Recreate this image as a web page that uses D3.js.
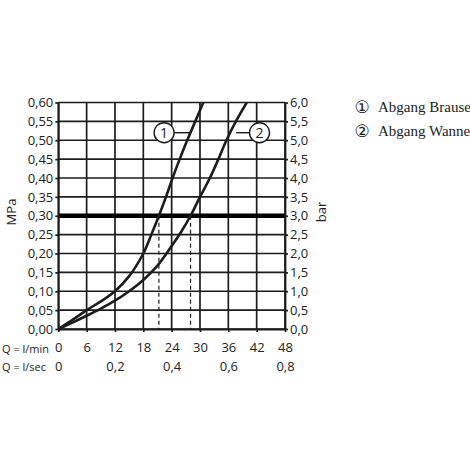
<!DOCTYPE html>
<html><head><meta charset="utf-8">
<script src="https://cdn.jsdelivr.net/npm/d3@7"></script>
<style>body{margin:0;background:#fff}svg{display:block}</style>
</head><body>
<script>
// ---- data ----
const qTicks = [0, 6, 12, 18, 24, 30, 36, 42, 48];           // l/min
const qSecTicks = [0, 0.2, 0.4, 0.6, 0.8];                    // l/sec
const mpaTicks = [0, 0.05, 0.10, 0.15, 0.20, 0.25, 0.30, 0.35, 0.40, 0.45, 0.50, 0.55, 0.60];
const barTicks = [0, 0.5, 1.0, 1.5, 2.0, 2.5, 3.0, 3.5, 4.0, 4.5, 5.0, 5.5, 6.0];
const seriesNames = ["Abgang Brause", "Abgang Wanne"];
const seriesMarks = ["\u2460", "\u2461"];
const brauseQ = [0, 3, 6, 9, 12, 15, 18.0, 19.7, 21.3, 22.8, 24.2, 25.7, 27.3, 29.0, 30.7];
const brauseP = [0, 0.024, 0.05, 0.073, 0.10, 0.14, 0.20, 0.25, 0.30, 0.35, 0.40, 0.45, 0.50, 0.55, 0.60];
const wanneQ = [0, 3, 6, 9, 12, 15, 18, 21, 24, 26, 28.0, 30.0, 32.1, 33.9, 35.6, 37.6, 39.9];
const wanneP = [0, 0.017, 0.035, 0.054, 0.075, 0.10, 0.13, 0.168, 0.22, 0.257, 0.30, 0.35, 0.40, 0.45, 0.50, 0.55, 0.60];
const refPressure = 0.30;          // MPa, thick reference line
const dropQ = [21.3, 28.0];        // flow at reference pressure
const labelQ = [22.4, 42.6];       // circled label positions
const labelP = 0.52;

// ---- layout ----
const W = 470, H = 470;
const x = d3.scaleLinear([0, 48], [58.3, 285]);
const xs = d3.scaleLinear([0, 0.8], [58.3, 285]);
const y = d3.scaleLinear([0, 0.6], [329, 102.5]);
const yb = d3.scaleLinear([0, 6], [329, 102.5]);
const ink = "#1c1c1c";
const numFont = "'Open Sans', sans-serif";
const connectorGap = [1, 6];

const svg = d3.select("body").append("svg").attr("width", W).attr("height", H);
svg.append("rect").attr("width", W).attr("height", H).attr("fill", "#fff");

// grid
const g = svg.append("g").attr("stroke", ink).attr("stroke-width", 1.7);
g.selectAll(".h").data(mpaTicks).join("line")
  .attr("x1", x(0)).attr("x2", x(48)).attr("y1", d => y(d)).attr("y2", d => y(d));
g.selectAll(".v").data(qTicks).join("line")
  .attr("x1", d => x(d)).attr("x2", d => x(d)).attr("y1", y(0)).attr("y2", y(0.6));

// dashed drop lines
svg.selectAll(".drop").data(dropQ).join("line")
  .attr("x1", d => x(d)).attr("x2", d => x(d))
  .attr("y1", y(refPressure)).attr("y2", y(0))
  .attr("stroke", ink).attr("stroke-width", 1.2).attr("stroke-dasharray", "4,3");

// reference line
svg.append("line").attr("x1", x(0)).attr("x2", x(48))
  .attr("y1", y(refPressure)).attr("y2", y(refPressure))
  .attr("stroke", "#000").attr("stroke-width", 4.5);

// curves
svg.append("clipPath").attr("id", "clip").append("rect")
  .attr("x", x(0)).attr("y", y(0.6)).attr("width", x(48) - x(0)).attr("height", y(0) - y(0.6));
const series = [
  brauseQ.map((q, i) => [q, brauseP[i]]),
  wanneQ.map((q, i) => [q, wanneP[i]])
];
const line = d3.line().x(d => x(d[0])).y(d => y(d[1])).curve(d3.curveCatmullRom.alpha(0.5));
svg.append("g").attr("clip-path", "url(#clip)").selectAll("path").data(series).join("path")
  .attr("d", line).attr("fill", "none").attr("stroke", ink).attr("stroke-width", 2.6)
  .attr("stroke-linejoin", "round");

// circled labels with connectors
function qAt(s, p) {
  for (let i = 1; i < s.length; i++) {
    if (s[i][1] >= p) {
      const t = (p - s[i-1][1]) / (s[i][1] - s[i-1][1]);
      return s[i-1][0] + t * (s[i][0] - s[i-1][0]);
    }
  }
  return s[s.length - 1][0];
}
const r = 10;
series.forEach((s, i) => {
  const cx = x(labelQ[i]), cy = y(labelP);
  const cxCurve = x(qAt(s, labelP));
  const dir = cxCurve > cx ? 1 : -1;
  const tx = cxCurve - dir * connectorGap[i];
  const x1 = cx + dir * r;
  svg.append("line").attr("x1", x1).attr("x2", tx).attr("y1", cy).attr("y2", cy)
    .attr("stroke", ink).attr("stroke-width", 1.4);
  svg.append("circle").attr("cx", cx).attr("cy", cy).attr("r", r)
    .attr("fill", "#fff").attr("stroke", ink).attr("stroke-width", 1.4);
  svg.append("text").attr("x", cx).attr("y", cy + 5).attr("text-anchor", "middle")
    .attr("font-family", numFont).attr("font-size", 14).attr("fill", ink).text(String(i + 1));
});

// axes
const fmt2 = d => d3.format(".2f")(d).replace(".", ",");
const fmt1 = d => d3.format(".1f")(d).replace(".", ",");
function styleAxis(sel) {
  sel.selectAll("path").attr("stroke", ink).attr("stroke-width", 1.8);
  sel.selectAll("line").attr("stroke", ink).attr("stroke-width", 1.7);
  sel.selectAll("text").attr("font-family", numFont).attr("font-size", 13).attr("fill", "#222");
}
svg.append("g").attr("transform", `translate(${x(0)},0)`)
  .call(d3.axisLeft(y).tickValues(mpaTicks).tickFormat(fmt2).tickSize(3).tickPadding(2).tickSizeOuter(0))
  .call(styleAxis);
svg.append("g").attr("transform", `translate(${x(48)},0)`)
  .call(d3.axisRight(yb).tickValues(barTicks).tickFormat(fmt1).tickSize(3).tickPadding(2).tickSizeOuter(0))
  .call(styleAxis);
svg.append("g").attr("transform", `translate(0,${y(0)})`)
  .call(d3.axisBottom(x).tickValues(qTicks).tickFormat(d => String(d)).tickSize(3).tickPadding(11).tickSizeOuter(0))
  .call(styleAxis);
svg.append("g").attr("transform", `translate(0,${y(0)})`)
  .call(d3.axisBottom(xs).tickValues(qSecTicks).tickFormat(d => d === 0 ? "0" : String(d).replace(".", ",")).tickSize(0).tickPadding(32.5))
  .call(styleAxis)
  .call(s => s.select(".domain").remove());

// axis titles
svg.append("text").attr("x", 2).attr("y", 352.5).attr("font-family", numFont).attr("font-size", 11)
  .attr("fill", "#222").text("Q = l/min");
svg.append("text").attr("x", 2).attr("y", 370.7).attr("font-family", numFont).attr("font-size", 11)
  .attr("fill", "#222").text("Q = l/sec");
svg.append("text").attr("transform", "translate(16,212) rotate(-90)").attr("text-anchor", "middle")
  .attr("font-family", numFont).attr("font-size", 13).attr("fill", "#222").text("MPa");
svg.append("text").attr("transform", "translate(326,212) rotate(-90)").attr("text-anchor", "middle")
  .attr("font-family", numFont).attr("font-size", 13).attr("fill", "#222").text("bar");

// legend
const lg = svg.append("g").selectAll("g").data(seriesNames).join("g")
  .attr("transform", (d, i) => `translate(0,${112 + i * 23.5})`);
lg.append("text").attr("x", 362).attr("y", 1).attr("text-anchor", "middle").attr("font-family", "'DejaVu Sans', sans-serif")
  .attr("font-size", 17).attr("fill", "#222").text((d, i) => seriesMarks[i]);
lg.append("text").attr("x", 378).attr("font-family", "'Liberation Serif', serif")
  .attr("font-size", 15).attr("fill", "#222").text(d => d);
</script>
</body></html>
